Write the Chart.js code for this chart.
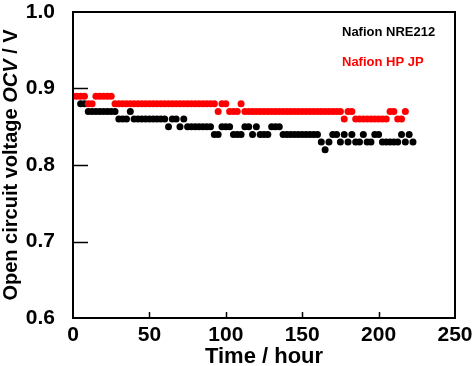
<!DOCTYPE html>
<html>
<head>
<meta charset="utf-8">
<script src="https://cdn.jsdelivr.net/npm/chart.js@4.4.1/dist/chart.umd.min.js"></script>
<style>
  html, body { margin: 0; padding: 0; background: #fff; }
  canvas { display: block; }
</style>
</head>
<body>
<canvas id="ocv" width="474" height="366"></canvas>
<script>
/* ─── Data ─── */
const hours = [
  0, 2.5, 5, 7.5, 10, 12.5, 15, 17.5, 20, 22.5,
  25, 27.5, 30, 32.5, 35, 37.5, 40, 42.5, 45, 47.5,
  50, 52.5, 55, 57.5, 60, 62.5, 65, 67.5, 70, 72.5,
  75, 77.5, 80, 82.5, 85, 87.5, 90, 92.5, 95, 97.5,
  100, 102.5, 105, 107.5, 110, 112.5, 115, 117.5, 120, 122.5,
  125, 127.5, 130, 132.5, 135, 137.5, 140, 142.5, 145, 147.5,
  150, 152.5, 155, 157.5, 160, 162.5, 165, 167.5, 170, 172.5,
  175, 177.5, 180, 182.5, 185, 187.5, 190, 192.5, 195, 197.5,
  200, 202.5, 205, 207.5, 210, 212.5, 215, 217.5, 220, 222.5,
];

// Nafion NRE212 (black)
const nre212 = [
  null, null, 0.88, 0.88, 0.87, 0.87, 0.87, 0.87, 0.87, 0.87,
  0.87, 0.87, 0.86, 0.86, 0.86, 0.87, 0.86, 0.86, 0.86, 0.86,
  0.86, 0.86, 0.86, 0.86, 0.86, 0.85, 0.86, 0.86, 0.85, 0.86,
  0.85, 0.85, 0.85, 0.85, 0.85, 0.85, 0.85, 0.84, 0.84, 0.85,
  0.85, 0.85, 0.84, 0.84, 0.84, 0.85, 0.85, 0.84, 0.85, 0.84,
  0.84, 0.84, 0.85, 0.85, 0.85, 0.84, 0.84, 0.84, 0.84, 0.84,
  0.84, 0.84, 0.84, 0.84, 0.84, 0.83, 0.82, 0.83, 0.84, 0.84,
  0.83, 0.84, 0.83, 0.84, 0.83, 0.83, 0.84, 0.83, 0.83, 0.84,
  0.84, 0.83, 0.83, 0.83, 0.83, 0.83, 0.84, 0.83, 0.84, 0.83,
];

// Nafion HP JP (red)
const hpjp = [
  0.89, 0.89, 0.89, 0.89, 0.88, 0.88, 0.89, 0.89, 0.89, 0.89,
  0.89, 0.88, 0.88, 0.88, 0.88, 0.88, 0.88, 0.88, 0.88, 0.88,
  0.88, 0.88, 0.88, 0.88, 0.88, 0.88, 0.88, 0.88, 0.88, 0.88,
  0.88, 0.88, 0.88, 0.88, 0.88, 0.88, 0.88, 0.88, 0.87, 0.88,
  0.88, 0.87, 0.87, 0.87, 0.88, 0.87, 0.87, 0.87, 0.87, 0.87,
  0.87, 0.87, 0.87, 0.87, 0.87, 0.87, 0.87, 0.87, 0.87, 0.87,
  0.87, 0.87, 0.87, 0.87, 0.87, 0.87, 0.87, 0.87, 0.87, 0.87,
  0.87, 0.86, 0.87, 0.87, 0.86, 0.86, 0.86, 0.86, 0.86, 0.86,
  0.86, 0.86, 0.86, 0.87, 0.87, 0.86, 0.86, 0.87,
];

const xTicks = [0, 50, 100, 150, 200, 250];
const yTicks = [0.6, 0.7, 0.8, 0.9, 1.0];
const innerXTicks = [50, 100, 150, 200];
const innerYTicks = [0.7, 0.8, 0.9];
const seriesNames = ['Nafion NRE212', 'Nafion HP JP'];

/* ─── Style ─── */
const FONT = '"Liberation Sans", Arial, sans-serif';
const BLACK = '#000000';
const RED = '#ff0000';

Chart.defaults.font.family = FONT;
Chart.defaults.color = BLACK;

function toPoints(values) {
  return hours
    .map((h, i) => ({ x: h, y: values[i] }))
    .filter(p => p.y !== null && p.y !== undefined);
}

/* ─── Frame, inward ticks, legend text, y title ─── */
const decorations = {
  id: 'decorations',
  afterDraw(chart) {
    const { ctx, chartArea: a, scales: { x, y } } = chart;
    ctx.save();

    ctx.strokeStyle = BLACK;
    ctx.lineWidth = 1.5;
    innerYTicks.forEach(v => {
      const py = Math.round(y.getPixelForValue(v)) + 0.5;
      ctx.beginPath();
      ctx.moveTo(a.left, py);
      ctx.lineTo(a.left + 15, py);
      ctx.stroke();
    });
    innerXTicks.forEach(v => {
      const px = Math.round(x.getPixelForValue(v)) + 0.5;
      ctx.beginPath();
      ctx.moveTo(px, a.bottom);
      ctx.lineTo(px, a.bottom - 6);
      ctx.stroke();
    });

    ctx.lineWidth = 2;
    ctx.strokeRect(a.left, a.top, a.right - a.left, a.bottom - a.top);

    // legend as coloured text
    ctx.font = `bold 13px ${FONT}`;
    ctx.textAlign = 'left';
    ctx.textBaseline = 'middle';
    ctx.fillStyle = BLACK;
    ctx.fillText(seriesNames[0], a.left + 269, a.top + 20);
    ctx.fillStyle = RED;
    ctx.fillText(seriesNames[1], a.left + 269, a.top + 50);

    // y title with italic OCV
    const parts = [
      { t: 'Open circuit voltage ', f: `bold 20px ${FONT}` },
      { t: 'OCV', f: `italic bold 20px ${FONT}` },
      { t: ' / V', f: `bold 20px ${FONT}` },
    ];
    let total = 0;
    parts.forEach(p => { ctx.font = p.f; p.w = ctx.measureText(p.t).width; total += p.w; });
    ctx.translate(11, (a.top + a.bottom) / 2);
    ctx.rotate(-Math.PI / 2);
    ctx.fillStyle = BLACK;
    ctx.textBaseline = 'middle';
    let px = -total / 2;
    parts.forEach(p => { ctx.font = p.f; ctx.fillText(p.t, px, 0); px += p.w; });

    ctx.restore();
  },
};

new Chart(document.getElementById('ocv'), {
  type: 'scatter',
  data: {
    datasets: [
      {
        label: seriesNames[1],
        data: toPoints(hpjp),
        backgroundColor: RED,
        borderWidth: 0,
        pointRadius: 3.5,
      },
      {
        label: seriesNames[0],
        data: toPoints(nre212),
        backgroundColor: BLACK,
        borderWidth: 0,
        pointRadius: 3.5,
      },
    ],
  },
  options: {
    responsive: false,
    animation: false,
    layout: { padding: { top: 12, right: 19, left: 0, bottom: 0 } },
    plugins: {
      legend: { display: false },
      tooltip: { enabled: false },
    },
    scales: {
      x: {
        type: 'linear',
        min: 0,
        max: 250,
        afterBuildTicks: s => { s.ticks = xTicks.map(v => ({ value: v })); },
        afterFit: s => { s.height = 48; s.paddingLeft = 0; s.paddingRight = 0; },
        grid: { display: false, drawTicks: false },
        border: { display: false },
        ticks: {
          padding: 5,
          maxRotation: 0,
          autoSkip: false,
          font: { size: 21, weight: 'bold' },
          color: BLACK,
        },
        title: {
          display: true,
          text: 'Time / hour',
          font: { size: 22, weight: 'bold', lineHeight: 0.8 },
          padding: 0,
          color: BLACK,
        },
      },
      y: {
        min: 0.6,
        max: 1.0,
        afterBuildTicks: s => { s.ticks = yTicks.map(v => ({ value: v })); },
        afterFit: s => { s.width = 73; s.paddingTop = 0; s.paddingBottom = 0; },
        grid: { display: false, drawTicks: false },
        border: { display: false },
        ticks: {
          padding: 18,
          autoSkip: false,
          font: { size: 21, weight: 'bold' },
          color: BLACK,
          callback: v => v.toFixed(1),
        },
      },
    },
  },
  plugins: [decorations],
});
</script>
</body>
</html>
